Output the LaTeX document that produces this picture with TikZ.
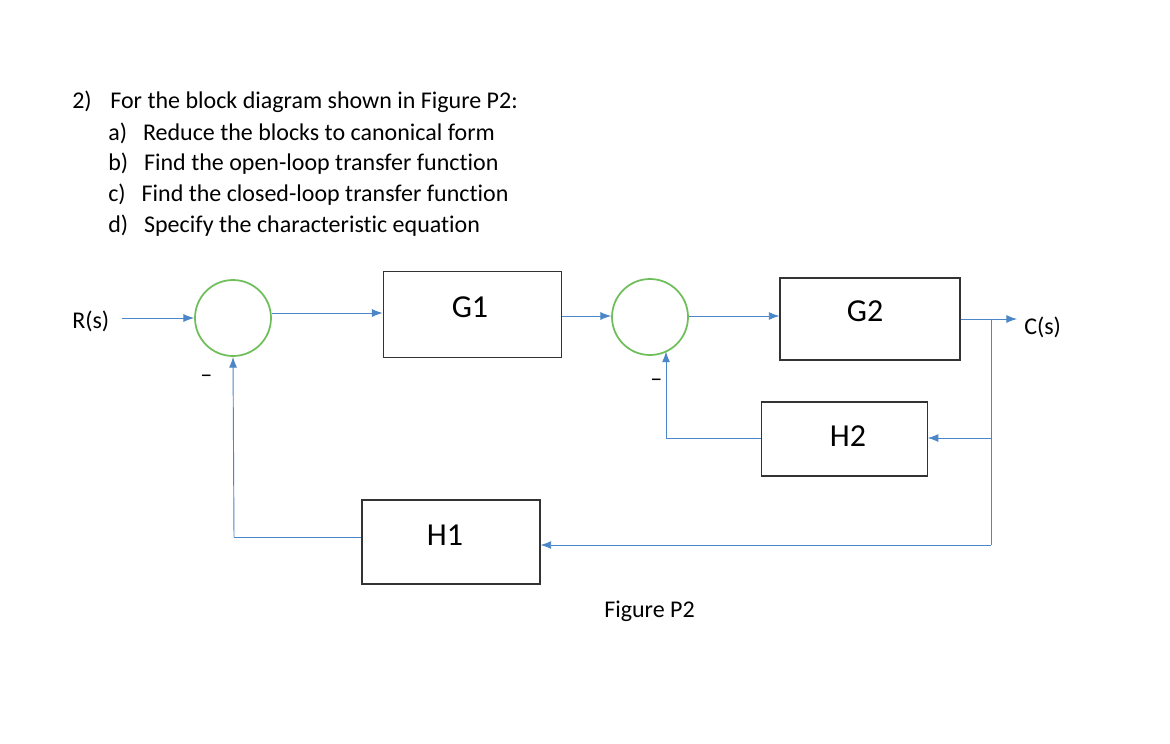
\documentclass[tikz,border=0pt]{standalone}
\usepackage{fontspec}
\setmainfont{Carlito}[Ligatures={NoCommon}]
\usetikzlibrary{arrows.meta}
\definecolor{ablue}{RGB}{74,134,200}
\definecolor{sgreen}{RGB}{110,190,90}
\begin{document}
\begin{tikzpicture}[x=0.75pt,y=-0.75pt,
 txt/.style={anchor=west,inner sep=0,font=\fontsize{18}{21}\selectfont},
 lbl/.style={inner sep=0,font=\fontsize{24}{28}\selectfont},
 blk/.style={draw=black!80,line width=0.8pt,inner sep=0},
 sum/.style={circle,draw=sgreen,line width=1.3pt,minimum size=57pt,inner sep=0},
 sig/.style={draw=ablue,line width=0.7pt,-{Latex[length=8pt,width=6pt]}},
 ln/.style={draw=ablue,line width=0.7pt}]
\useasboundingbox (0,0) rectangle (1170,743);
\fill[white] (0,0) rectangle (1170,743);
\node[txt] (q) at (72,102) {2)\hspace{14pt}For the block diagram shown in Figure P2:};
\node[txt] (qa) at (108,133) {a)\hspace{12pt}Reduce the blocks to canonical form};
\node[txt] (qb) at (108,164) {b)\hspace{12pt}Find the open-loop transfer function};
\node[txt] (qc) at (108,195) {c)\hspace{12pt}Find the closed-loop transfer function};
\node[txt] (qd) at (108,226) {d)\hspace{12pt}Specify the characteristic equation};

\node[txt] (R) at (72,321) {R(s)};
\coordinate (rin) at (122,318);
\node[sum] (s1) at (233,318) {};
\node[sum] (s2) at (650,317) {};
\node[blk,minimum width=134pt,minimum height=64pt] (G1) at (472.5,314.5) {};
\node[lbl] at (470,307) {G1};
\node[blk,minimum width=135pt,minimum height=61.5pt] (G2) at (870,319) {};
\node[lbl] at (865,311) {G2};
\node[blk,minimum width=124pt,minimum height=55.5pt] (H2) at (844.5,439) {};
\node[lbl] at (848,436) {H2};
\node[blk,minimum width=133.5pt,minimum height=63pt] (H1) at (451,542) {};
\node[lbl] at (445,535) {H1};
\node[txt] (C) at (1024,327) {C(s)};
\node[txt] (m1) at (200,379) {–};
\node[txt] (m2) at (650,383) {–};
\node[txt] (fig) at (604,611) {Figure P2};

\coordinate (b) at (991,319);
\draw[sig] (rin) -- (s1.west |- rin);
\draw[sig] (s1.east |- 0,313) -- (G1.west |- 0,313);
\draw[sig] (G1.east |- 0,316) -- (s2.west |- 0,316);
\draw[sig] (s2.east |- 0,316) -- (G2.west |- 0,316);
\draw[sig] (G2.east |- b) -- (1017,319);
\draw[ln] (b) -- (991,545);
\draw[sig] (991,545) -- (H1.east |- 0,545);
\draw[sig] (991,438) -- (H2.east |- 0,438);
\draw[ln] (H1.west |- 0,537) -- (234,537);
\draw[sig] (234,537) -- (s1.south);
\draw[ln] (H2.west |- 0,438) -- (666,438);
\draw[sig] (666,438) -- (666,351.5);
\end{tikzpicture}
\end{document}
